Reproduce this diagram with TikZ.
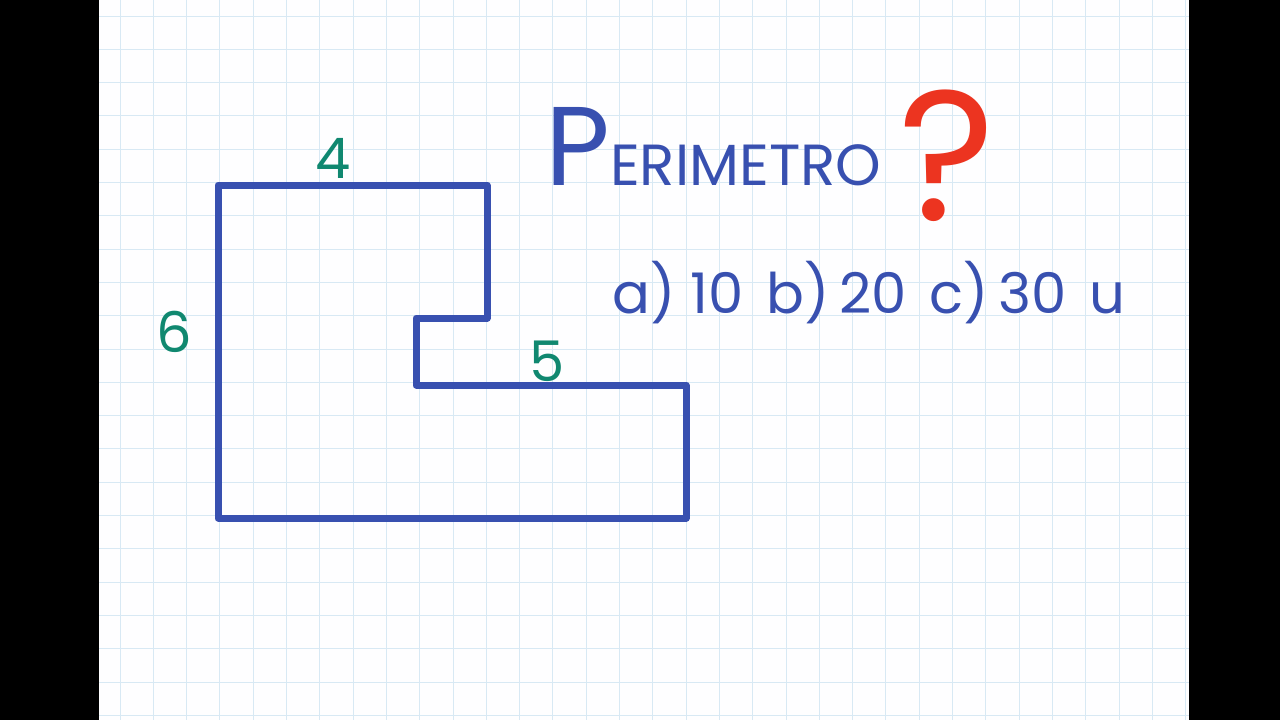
\documentclass[tikz,border=0pt]{standalone}
\usepackage{fontspec}
\setmainfont{Poppins}
\usepackage{tikz}
\usetikzlibrary{calc}

\definecolor{penblue}{RGB}{56,80,176}
\definecolor{penteal}{RGB}{16,136,112}
\definecolor{penred}{RGB}{236,52,32}
\definecolor{gridblue}{RGB}{216,233,244}

\begin{document}
\begin{tikzpicture}[x=1pt,y=-1pt]
    \useasboundingbox (0,0) rectangle (1280,720);
    % paper and its squares
    \fill[black] (0,0) rectangle (1280,720);
    \fill[white!97!gridblue] (99,0) rectangle (1189,720);
    \foreach \k in {0,...,32}
        \draw[gridblue,line width=1pt] ({120+33.3*\k},0) -- ({120+33.3*\k},720);
    \foreach \k in {0,...,21}
        \draw[gridblue,line width=1pt] (99,{16+33.3*\k}) -- (1189,{16+33.3*\k});

    \coordinate (TopLeft) at (218,185);
    \coordinate (TopRight) at (487,185);
    \coordinate (NotchTop) at (487,318);
    \coordinate (NotchIn) at (416,318);
    \coordinate (StepIn) at (416,385);
    \coordinate (StepRight) at (686,385);
    \coordinate (BotRight) at (686,518);
    \coordinate (BotLeft) at (218,518);

    \draw [line width=7pt,penblue,line join=round] (TopLeft)
        -- (TopRight) -- (NotchTop) -- (NotchIn) -- (StepIn)
        -- (StepRight) -- (BotRight) -- (BotLeft) -- cycle;

    \node[penteal,font=\fontsize{56}{56}\selectfont] (side4) at (333,158) {4};
    \node[penteal,font=\fontsize{56}{56}\selectfont] (side6) at (174,332) {6};
    \node[penteal,font=\fontsize{56}{56}\selectfont] (side5) at (547,361) {5};

    \node[penblue,anchor=base west,inner sep=0pt] (title) at (545,185)
        {\fontsize{112}{112}\selectfont P\fontsize{58}{58}\selectfont ERIMETRO};
    \node[penred,anchor=base west,inner sep=0pt,font=\fontsize{185}{185}\selectfont]
        (quest) at (898,220) {?};

    \node[penblue,anchor=base west,inner sep=0pt,font=\fontsize{56}{56}\selectfont]
        (answers) at (612,313)
        {a) 10\hspace{8pt} b)\,20\hspace{8pt} c)\,30\hspace{8pt} u};
\end{tikzpicture}
\end{document}
